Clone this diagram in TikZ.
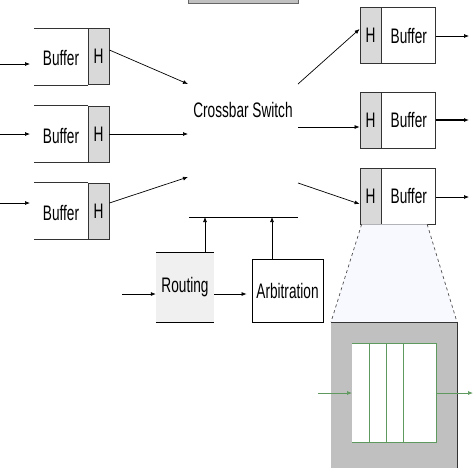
\documentclass[tikz,border=0pt]{standalone}
\usepackage{fontspec}
\setmainfont[FakeStretch=0.65]{Liberation Sans}
\usetikzlibrary{arrows.meta}
\definecolor{hgray}{HTML}{D9D9D9}
\definecolor{zoomgray}{HTML}{C0C0C0}
\definecolor{zoomfill}{HTML}{F8F8FF}
\definecolor{qgreen}{HTML}{5E9A5E}
\begin{document}
\begin{tikzpicture}[x=1pt,y=-1pt,
    arr/.style={-{Latex[length=5pt,width=4pt]}, line width=0.7pt},
    hbox/.style={draw=black!80, fill=hgray, line width=0.8pt, minimum width=21pt, minimum height=56pt, inner sep=0pt, font=\fontsize{21}{21}\selectfont},
    lbl/.style={inner sep=0pt, font=\fontsize{21}{21}\selectfont}]
    \useasboundingbox (0,0) rectangle (474,467);
    % input buffers
    \foreach \i/\y in {1/56.5, 2/134, 3/211} {
        \node[hbox] (hin\i) at (98.5,\y) {H};
        \node[lbl] (bin\i) at (61,\y+1.5) {Buffer};
        \draw[line width=0.8pt, black!80] (hin\i.north west) -- ++(-54,0);
        \draw[line width=0.8pt, black!80] (hin\i.south west) -- ++(-54,0);
    }
    \coordinate (in1) at (0,64);  \coordinate (in1e) at (30,64);
    \coordinate (in2) at (0,134); \coordinate (in2e) at (30,134);
    \coordinate (in3) at (0,203); \coordinate (in3e) at (30,203);
    \foreach \i in {1,2,3} \draw[arr] (in\i) -- (in\i e);
    % crossbar
    \draw[fill=zoomgray, draw=black!60] (188,-1) rectangle (298,3);
    \node[lbl] (xbar) at (243,110) {Crossbar Switch};
    \coordinate (xl1) at (188,84);  \coordinate (xr1) at (298,84);
    \coordinate (xl2) at (188,134); \coordinate (xr2) at (298,127);
    \coordinate (xl3) at (188,177); \coordinate (xr3) at (298,183);
    \draw[arr] ([yshift=6.5pt]hin1.east) -- (xl1);
    \draw[arr] (hin2.east) -- (xl2);
    \draw[arr] ([yshift=8pt]hin3.east) -- (xl3);
    % output buffers
    \foreach \i/\y in {1/35.5, 2/120, 3/196} {
        \node[hbox] (hout\i) at (370.5,\y) {H};
        \node[draw=black!80, line width=0.8pt, minimum width=54pt, minimum height=56pt, inner sep=0pt, anchor=west, font=\fontsize{21}{21}\selectfont] (bout\i) at (hout\i.east) {Buffer};
    }
    \draw[arr] (xr1) -- ([yshift=6.5pt]hout1.west);
    \draw[arr] (xr2) -- ([yshift=-7pt]hout2.west);
    \draw[arr] (xr3) -- ([yshift=-8pt]hout3.west);
    \coordinate (out1) at (469,36);
    \coordinate (out2) at (469,120);
    \coordinate (out3) at (469,197);
    \draw[arr] (bout1.east |- out1) -- (out1);
    \draw[arr, line width=1.2pt] (bout2.east |- out2) -- (out2);
    \draw[arr] (bout3.east |- out3) -- (out3);
    % routing and arbitration
    \coordinate (barl) at (189,217);
    \coordinate (barr) at (298,217);
    \draw[line width=0.8pt] (barl) -- (barr);
    \node[fill=black!6, minimum width=58pt, minimum height=69pt, inner sep=0pt, font=\fontsize{21}{21}\selectfont] (routing) at (185,287.5) {Routing};
    \draw[line width=0.8pt] (routing.north west) -- (routing.north east);
    \draw[line width=0.8pt] (routing.south west) -- (routing.south east);
    \node[draw, line width=0.8pt, minimum width=71pt, minimum height=63pt, inner sep=0pt, font=\fontsize{21}{21}\selectfont] (arbit) at (287.5,290.5) {Arbitration};
    \draw[arr] ([xshift=20pt]routing.north) -- ([xshift=20pt]routing.north |- barl);
    \draw[arr] ([xshift=-15.5pt]arbit.north) -- ([xshift=-15.5pt]arbit.north |- barl);
    \coordinate (rin) at (122,294);
    \draw[arr] (rin) -- (rin -| routing.west);
    \draw[arr, shorten >=5pt] (routing.east |- rin) -- (arbit.west |- rin);
    % zoom of buffer
    \coordinate (zl) at (331,322);
    \coordinate (zr) at (457,322);
    \coordinate (zt1) at ([xshift=2pt]hout3.south west);
    \coordinate (zt2) at ([xshift=-9pt]bout3.south east);
    \fill[zoomfill] (zt1) -- (zt2) -- (zr) -- (zl) -- cycle;
    \draw[dashed, black!70, line width=0.7pt] (zt1) -- (zl);
    \draw[dashed, black!70, line width=0.7pt] (zt2) -- (zr);
    \fill[zoomgray] (zl) rectangle (457,468);
    \draw[black!80, line width=0.8pt] (zl) -- (zr) -- (457,468);
    \fill[white] (352,343) rectangle (436,442);
    \draw[qgreen, line width=0.8pt] (352,343) -- (436,343) -- (436,442) -- (352,442);
    \foreach \x in {369,386,403} \draw[qgreen, line width=0.8pt] (\x,343) -- (\x,442);
    \coordinate (qin) at (318,393);
    \coordinate (qout) at (473,393);
    \draw[arr, qgreen] (qin) -- (352,393);
    \draw[arr, qgreen] (436,393) -- (qout);
\end{tikzpicture}
\end{document}
